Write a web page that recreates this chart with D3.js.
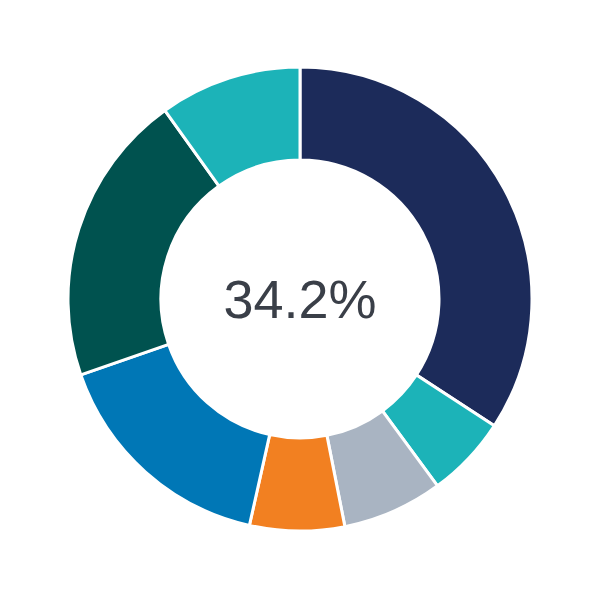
<!DOCTYPE html>
<html>
<head>
<meta charset="utf-8">
<script src="https://cdn.jsdelivr.net/npm/d3@7"></script>
<style>
  body { margin: 0; background: #fff; }
</style>
</head>
<body>
<svg id="svg_donut" width="600" height="600"></svg>
<script>
// Donut chart data
var labels = ["A", "B", "C", "D", "E", "F", "G"];
var values = [34.2, 5.7, 7.0, 6.6, 16.2, 20.4, 9.9];
var colours = ["#1c2b5a", "#1cb3b8", "#a9b4c2", "#f28021", "#0077b6", "#00524f", "#1cb3b8"];
var centreLabel = "34.2%";

var svg = d3.select("#svg_donut"),
    cx = 300, cy = 299,
    outer = 232, inner = 139,
    g = svg.append("g").attr("transform", "translate(" + cx + "," + cy + ")");

var pie = d3.pie().sort(null).value(function(d) { return d; });
var arc = d3.arc().innerRadius(inner).outerRadius(outer);

g.selectAll("path")
  .data(pie(values))
  .enter().append("path")
    .attr("d", arc)
    .attr("fill", function(d, i) { return colours[i]; })
    .attr("stroke", "#fff")
    .attr("stroke-width", 3);

g.append("text")
    .attr("text-anchor", "middle")
    .attr("dy", "0.35em")
    .attr("font-family", "'Liberation Sans', Arial, sans-serif")
    .attr("font-size", 54)
    .attr("fill", "#3a3f48")
    .text(centreLabel);
</script>
</body>
</html>
